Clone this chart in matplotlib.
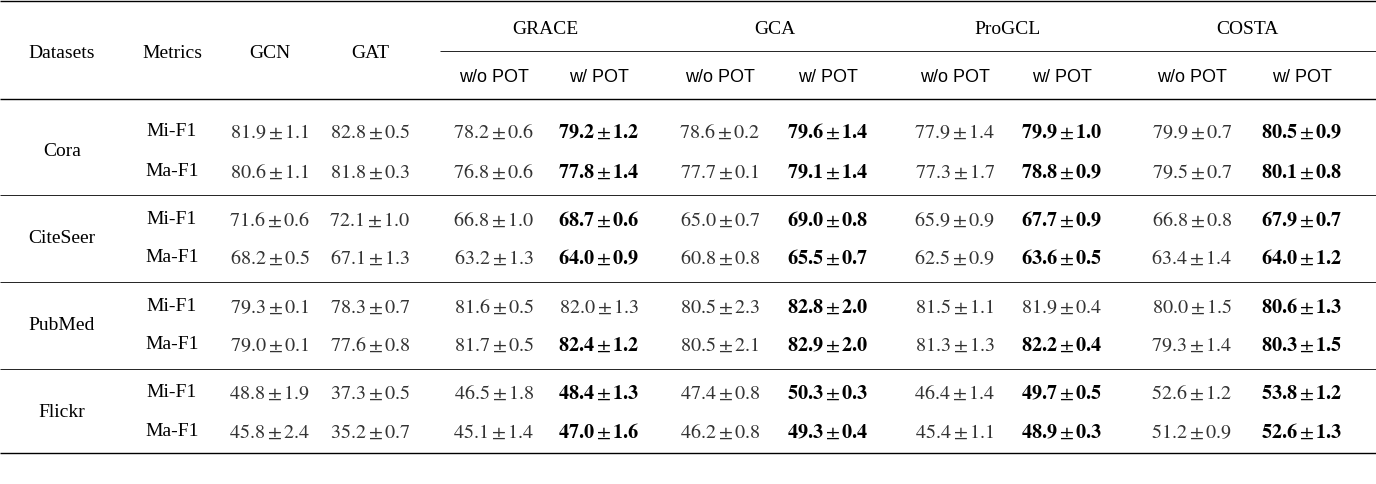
import matplotlib.pyplot as plt

plt.rcParams["mathtext.fontset"] = "stix"

W, H = 1376, 485
DATASETS = ["Cora", "CiteSeer", "PubMed", "Flickr"]
METRICS = ["Mi-F1", "Ma-F1"]
BASE_COLS = ["GCN", "GAT"]
GROUPS = ["GRACE", "GCA", "ProGCL", "COSTA"]
SUB = ["w/o POT", "w/ POT"]

# per row: 10 (mean, std) values: GCN, GAT, GRACE w/o, w/, GCA w/o, w/, ProGCL w/o, w/, COSTA w/o, w/
MEANS = [
    [81.9, 82.8, 78.2, 79.2, 78.6, 79.6, 77.9, 79.9, 79.9, 80.5],
    [80.6, 81.8, 76.8, 77.8, 77.7, 79.1, 77.3, 78.8, 79.5, 80.1],
    [71.6, 72.1, 66.8, 68.7, 65.0, 69.0, 65.9, 67.7, 66.8, 67.9],
    [68.2, 67.1, 63.2, 64.0, 60.8, 65.5, 62.5, 63.6, 63.4, 64.0],
    [79.3, 78.3, 81.6, 82.0, 80.5, 82.8, 81.5, 81.9, 80.0, 80.6],
    [79.0, 77.6, 81.7, 82.4, 80.5, 82.9, 81.3, 82.2, 79.3, 80.3],
    [48.8, 37.3, 46.5, 48.4, 47.4, 50.3, 46.4, 49.7, 52.6, 53.8],
    [45.8, 35.2, 45.1, 47.0, 46.2, 49.3, 45.4, 48.9, 51.2, 52.6],
]
STDS = [
    [1.1, 0.5, 0.6, 1.2, 0.2, 1.4, 1.4, 1.0, 0.7, 0.9],
    [1.1, 0.3, 0.6, 1.4, 0.1, 1.4, 1.7, 0.9, 0.7, 0.8],
    [0.6, 1.0, 1.0, 0.6, 0.7, 0.8, 0.9, 0.9, 0.8, 0.7],
    [0.5, 1.3, 1.3, 0.9, 0.8, 0.7, 0.9, 0.5, 1.4, 1.2],
    [0.1, 0.7, 0.5, 1.3, 2.3, 2.0, 1.1, 0.4, 1.5, 1.3],
    [0.1, 0.8, 0.5, 1.2, 2.1, 2.0, 1.3, 0.4, 1.4, 1.5],
    [1.9, 0.5, 1.8, 1.3, 0.8, 0.3, 1.4, 0.5, 1.2, 1.2],
    [2.4, 0.7, 1.4, 1.6, 0.8, 0.4, 1.1, 0.3, 0.9, 1.3],
]
NOT_BOLD = {(4, 3), (4, 7)}  # w/ POT cells that are not bold

COL_X = [270, 370, 494, 599, 720, 828, 955, 1062, 1192, 1302]
GROUP_X = [545, 775, 1008, 1247]
ROW_Y = [132, 172, 220, 258, 307, 345, 393, 432]
SEP_Y = [196, 283, 370]

fig = plt.figure(figsize=(W / 100, H / 100), dpi=100)
ax = fig.add_axes([0, 0, 1, 1])
ax.set_xlim(0, W)
ax.set_ylim(H, 0)
ax.axis("off")

serif = dict(family="Liberation Serif", fontsize=14, ha="center", va="center")
sans = dict(family="Liberation Sans", fontsize=13, ha="center", va="center")

ax.hlines(2, 0, W, color="black", lw=1.0)
ax.hlines(52, 440, W, color="black", lw=0.6)
ax.hlines(100, 0, W, color="black", lw=1.0)
for y in SEP_Y:
    ax.hlines(y, 0, W, color="black", lw=0.6)
ax.hlines(454, 0, W, color="black", lw=1.0)

ax.text(62, 53, "Datasets", **serif)
ax.text(172, 53, "Metrics", **serif)
for x, c in zip(COL_X[:2], BASE_COLS):
    ax.text(x, 53, c, **serif)
for x, g in zip(GROUP_X, GROUPS):
    ax.text(x, 30, g, **serif)
for i, x in enumerate(COL_X[2:]):
    ax.text(x, 78, SUB[i % 2], **sans)

for r, y in enumerate(ROW_Y):
    if r % 2 == 0:
        ax.text(62, (ROW_Y[r] + ROW_Y[r + 1]) / 2, DATASETS[r // 2], **serif)
    ax.text(172, y, METRICS[r % 2], **serif)
    for c, x in enumerate(COL_X):
        m, s = MEANS[r][c], STDS[r][c]
        bold = c >= 2 and c % 2 == 1 and (r, c) not in NOT_BOLD
        if bold:
            txt = rf"$\mathbf{{{m:.1f}}}\pm\mathbf{{{s:.1f}}}$"
        else:
            txt = rf"${m:.1f}\pm{s:.1f}$"
        ax.text(x, y, txt, fontsize=14.5, ha="center", va="center",
                color="black" if bold else "#333333")

fig.savefig("out.png", dpi=100)
